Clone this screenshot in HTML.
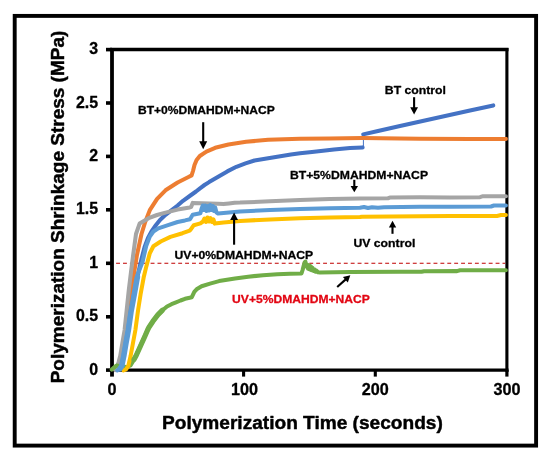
<!DOCTYPE html>
<html>
<head>
<meta charset="utf-8">
<title>Polymerization Shrinkage Stress</title>
<style>
  html, body { margin: 0; padding: 0; background: #ffffff; }
  body { width: 550px; height: 454px; overflow: hidden; }
  svg { display: block; }
  text { font-family: "Liberation Sans", sans-serif; font-weight: bold; fill: #000; stroke: #000; stroke-width: 0.3px; stroke-linejoin: round; }
  .tick { font-size: 16.2px; stroke-width: 0.4px; }
  .title { font-size: 19.1px; stroke-width: 0.45px; }
  .lab { font-size: 12.2px; stroke-width: 0.5px; }
  .lab text { transform-box: fill-box; transform-origin: 0% 100%; transform: scaleY(0.955); }
  .curve { fill: none; stroke-width: 4.05; stroke-linecap: round; stroke-linejoin: round; }
</style>
</head>
<body>
<svg width="550" height="454" viewBox="0 0 550 454">
  <rect x="0" y="0" width="550" height="454" fill="#ffffff"/>

  <!-- outer frame -->
  <rect x="14.7" y="15.9" width="521.4" height="429.7" fill="none" stroke="#000" stroke-width="3.9"/>

  <!-- plot area frame -->
  <g stroke="#000">
    <line x1="112" y1="47.9" x2="112" y2="371.7" stroke-width="3.8"/>
    <line x1="110.1" y1="49.6" x2="508.5" y2="49.6" stroke-width="3.5"/>
    <line x1="506.9" y1="47.9" x2="506.9" y2="371.7" stroke-width="3.1"/>
    <line x1="110.1" y1="370.1" x2="508.5" y2="370.1" stroke-width="3.3"/>
  </g>

  <!-- y ticks -->
  <g stroke="#000" stroke-width="3.6">
    <line x1="106" y1="49.6" x2="112" y2="49.6"/>
    <line x1="106" y1="103" x2="112" y2="103"/>
    <line x1="106" y1="156.4" x2="112" y2="156.4"/>
    <line x1="106" y1="209.8" x2="112" y2="209.8"/>
    <line x1="106" y1="263.3" x2="112" y2="263.3"/>
    <line x1="106" y1="316.8" x2="112" y2="316.8"/>
    <line x1="106" y1="370.1" x2="112" y2="370.1"/>
    <!-- x ticks -->
    <line x1="112" y1="370" x2="112" y2="376.6" stroke-width="3.8"/>
    <line x1="243.6" y1="370" x2="243.6" y2="376.6" stroke-width="3.1"/>
    <line x1="375.3" y1="370" x2="375.3" y2="376.6" stroke-width="3.1"/>
    <line x1="506.9" y1="370" x2="506.9" y2="376.6" stroke-width="3.2"/>
  </g>

  <!-- y tick labels -->
  <g class="tick" text-anchor="end" style="font-size:15.9px">
    <text x="98" y="54.2">3</text>
    <text x="98" y="107.6">2.5</text>
    <text x="98" y="161.0">2</text>
    <text x="98" y="214.4">1.5</text>
    <text x="98" y="267.9">1</text>
    <text x="98" y="321.3">0.5</text>
    <text x="98" y="374.7">0</text>
  </g>
  <!-- x tick labels -->
  <g class="tick" text-anchor="middle">
    <text x="112" y="395.3">0</text>
    <text x="244.5" y="395.3">100</text>
    <text x="375.3" y="395.3">200</text>
    <text x="507.1" y="395.3">300</text>
  </g>

  <!-- axis titles -->
  <text class="title" x="302.4" y="429" text-anchor="middle">Polymerization Time (seconds)</text>
  <text class="title" style="font-size:19px" transform="translate(63.8 207) rotate(-90)" text-anchor="middle">Polymerization Shrinkage Stress (MPa)</text>

  <!-- reference dashed line y = 1 -->
  <line x1="114" y1="263.3" x2="505.2" y2="263.3" stroke="#c00000" stroke-width="1.1" stroke-dasharray="3.9 3" stroke-dashoffset="4.8"/>

  <!-- series 1 : BT control (blue) -->
  <polyline class="curve" stroke="#4472c4" points="116,370 119,368.6 122.5,354 125,341 127.5,328 131,308 135,288 138.5,272 141.5,259 144.6,247 148,238 151.5,231.5 156,225 160,220 165.5,214.8 171,210.6 177.6,205.5 183,200.8 189.7,196 196,191.5 200,188.3 204.5,185 209.1,182.1 218.2,176.7 227.3,171.4 236.4,166.8 245.5,163.4 254.5,160.5 263.6,159 272.7,157.6 281.8,156.1 290.9,154.5 300,153.2 312,151.9 334,149.4 350,148.1 362.6,147.4"/>
  <line x1="363.4" y1="147.4" x2="363.4" y2="135" stroke="#4472c4" stroke-width="1"/>
  <polyline class="curve" stroke="#4472c4" points="363.2,134.4 378,131 400,126.1 444,116.3 470,110.5 493.3,105.4"/>

  <!-- series 2 : BT+0%DMAHDM+NACP (orange) -->
  <polyline class="curve" stroke="#ed7d31" points="116,370 119,368.6 122,357 124.5,343 127,327 129.8,305 132,287 134.2,272 137,254.7 141.5,234 145.2,222 149.8,210.2 157.1,198.8 165.5,190.3 177.6,182.5 188.5,177 191.6,175.4 193,171 194.5,165 196.6,160 199.8,156 206.4,151.6 215.2,147.8 228.5,144.5 246.1,141.8 268.1,139.7 300,138.8 330,138.4 362,138.1 400,138.4 420,138.7 470,139 505.9,138.9"/>

  <!-- series 3 : BT+5%DMAHDM+NACP (gray) -->
  <polyline class="curve" stroke="#a5a5a5" points="115,370 117,367.5 118.6,362 120.2,356 122.2,344 124.6,330 126.7,310 128.8,290 131,272 133.2,254.7 136,234 139.6,223.6 148.6,218.2 157,215 165.5,212.6 177.6,209.6 189.7,207.5 191.2,206.8 192.7,202.9 201.5,203.2 218,203.8 223.5,204.1 229,203.4 234.6,202.7 240,202.6 270,201.3 300,200.1 330,199.1 360,198.4 388,198.2 390.5,197.4 420,197.3 450,197.4 480,197.2 483,196.2 505.9,196.2"/>

  <!-- series 6 : UV+5%DMAHDM+NACP (green) -->
  <polyline class="curve" stroke="#70ad47" points="111.8,369.6 114,367.6 116.5,365.5 121,366.5 127,367 130.5,365.5 133.5,360.5 136,355.5 140.3,346 144.6,336.5 147.6,330 149,327.2 153,321.2 158,314.7 162.5,310.2 167,306.5 171.5,304.2 176,302.4 180.5,300.5 185,298.8 189.7,297.7 191.8,297.2 193,294.6 194.3,291.8 196.6,289.3 201.6,286.2 210,283.6 219.1,281.1 235,278.4 248.2,276.7 263,275.2 277.3,274.2 290,273.7 301.5,273.4 302.6,270 303.6,266 304.6,262.6 305.4,261.6 306,264.5 306.8,267 307.4,264.8 308,268.8 308.6,265.3 309.2,269.2 309.8,265.8 310.4,269.6 311,266.6 311.8,270.2 312.6,268 313.5,270.9 314.5,269.5 315.5,271.6 316.5,270.7 318,272.2 320,272.5 350,272 400,271.8 421.5,271.8 424,271.2 457,271.1 460,270.3 505.9,270.3"/>

  <!-- series 4 : UV control (yellow) -->
  <polyline class="curve" stroke="#ffc000" points="123.5,370.4 126,369.4 128.3,366 130.6,356 132.8,344 135.4,330 138.1,310 140.6,294.2 143.7,277.3 146.2,266.9 149.8,253.3 153.4,246.3 160.7,241.5 170.4,236.9 182.5,233.2 189.7,230.6 191,229.2 193.8,225.2 200.4,223.4 203,221.5 204.5,218.5 206,222 207.5,217.5 209,221.5 210.5,218 212,222 213.5,219.5 214.7,223.6 223.5,222.5 234.6,221.5 240,221 270,219.4 300,218.3 330,217.4 360,217 362,216.7 420,216.3 450,216.1 497,215.9 501,215.1 505.9,215"/>

  <!-- series 5 : UV+0%DMAHDM+NACP (light blue) -->
  <polyline class="curve" stroke="#5b9bd5" points="117.3,370.4 119.5,369.4 121.3,366 123.4,356 125.6,343 128,330 130.6,312 134,294.2 137.5,274.8 142.5,262 146.2,246 149.8,236.6 153.4,231.5 158.3,228.4 168,225.1 177.6,222 185,220.4 190,219.2 192.7,214.7 200.4,213.3 201.5,209 202.8,205.5 204,210 205.2,205.5 206.5,211 207.8,206 209,210.5 210.2,205 211.5,210 212.8,206 214,211 215.2,207.5 216.5,212.5 218,213.4 229,212.5 240,211.4 270,210 300,209 330,208.3 360,207.8 364,207 368,208 372,207.2 378,207.8 384,207.2 420,206.7 450,206.7 491,206.5 494,205.5 505.9,205.5"/>

  <polyline class="curve" stroke="#5b9bd5" style="stroke-width:5.5" points="120,368.6 121.8,366 123.8,356 126,343 128.4,330 131,312 134.3,294.2 137.4,277"/>
  <polyline class="curve" stroke="#70ad47" style="stroke-width:5.2" points="134,359.5 136.2,355.5 140.5,346 144.8,336.5 147.6,330 149,327.2 153,321.2 158,314.7 162.5,310.2"/>
  <!-- annotation arrows -->
  <g stroke="#000" stroke-width="2.1" fill="#000">
    <!-- BT+0% -->
    <line x1="203.2" y1="122.2" x2="203.2" y2="142.6"/>
    <polygon points="199.2,141.3 207.2,141.3 203.2,149.3" stroke="none"/>
    <!-- BT control -->
    <line x1="414.1" y1="97.2" x2="414.1" y2="108.5"/>
    <polygon points="410.2,107.3 418,107.3 414.1,114.6" stroke="none"/>
    <!-- BT+5% -->
    <line x1="354.3" y1="179.8" x2="354.3" y2="187"/>
    <polygon points="350.6,186 358,186 354.3,192.2" stroke="none"/>
    <!-- UV+0% -->
    <line x1="234.1" y1="244.7" x2="234.1" y2="219"/>
    <polygon points="230.2,219.9 238,219.9 234.1,212.6" stroke="none"/>
    <!-- UV control -->
    <line x1="392.5" y1="233.8" x2="392.5" y2="226.5"/>
    <polygon points="388.9,227.5 396.2,227.5 392.5,220.7" stroke="none"/>
    <!-- UV+5% -->
    <line x1="337.2" y1="287" x2="346" y2="279.1"/>
    <polygon points="350.3,275.3 347.8,282.4 342.9,276.9" stroke="none"/>
  </g>

  <!-- annotation labels -->
  <g class="lab">
    <text x="138" y="114" style="font-size:12.08px">BT+0%DMAHDM+NACP</text>
    <text x="384.8" y="93.9" style="font-size:12.25px">BT control</text>
    <text x="290" y="179.3">BT+5%DMAHDM+NACP</text>
    <text x="174.5" y="259.3" style="font-size:12.2px">UV+0%DMAHDM+NACP</text>
    <text x="353.4" y="246.9" style="font-size:12.25px">UV control</text>
    <text x="232.1" y="303" style="fill:#e20613;stroke:#e20613;font-size:12.1px">UV+5%DMAHDM+NACP</text>
  </g>
</svg>
</body>
</html>
